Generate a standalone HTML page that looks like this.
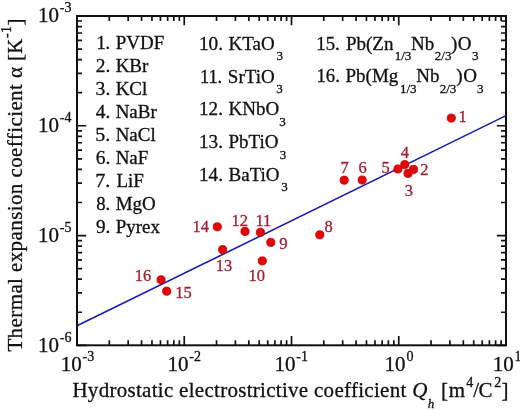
<!DOCTYPE html>
<html><head><meta charset="utf-8"><style>
html,body{margin:0;padding:0;background:#fff;width:520px;height:410px;overflow:hidden}
svg{display:block}
text{font-family:"Liberation Serif","Times New Roman",serif}
.k text,text.k{stroke:#111;stroke-width:0.3px}
</style></head><body>
<svg width="520" height="410" viewBox="0 0 520 410">
<rect width="520" height="410" fill="#fff"/>
<g class="k" font-size="21" fill="#111"><text x="38" y="22.2">10<tspan dx="0.8" dy="-10" font-size="14">-3</tspan></text><text x="38" y="132.2">10<tspan dx="0.8" dy="-10" font-size="14">-4</tspan></text><text x="38" y="242.2">10<tspan dx="0.8" dy="-10" font-size="14">-5</tspan></text><text x="38" y="352">10<tspan dx="0.8" dy="-10" font-size="14">-6</tspan></text><text x="60.8" y="371">10<tspan dx="0.8" dy="-10" font-size="14">-3</tspan></text><text x="167.5" y="371">10<tspan dx="0.8" dy="-10" font-size="14">-2</tspan></text><text x="274.5" y="371">10<tspan dx="0.8" dy="-10" font-size="14">-1</tspan></text><text x="384.6" y="371">10<tspan dx="0.8" dy="-10" font-size="14">0</tspan></text><text x="492.8" y="371">10<tspan dx="0.8" dy="-10" font-size="14">1</tspan></text></g>
<text class="k" transform="translate(22.3,351.6) rotate(-90)" font-size="21" fill="#111" textLength="333" lengthAdjust="spacing">Thermal expansion coefficient α [K<tspan dy="-11" font-size="14">-1</tspan><tspan dy="11">]</tspan></text>
<g class="k" fill="#111"><text x="72.40" y="397" font-size="21" textLength="333.9" lengthAdjust="spacing">Hydrostatic electrostrictive coefficient</text><text x="412.14" y="397.00" font-size="21" font-style="italic">Q</text><text x="427.63" y="408.20" font-size="13" font-style="italic">h</text><text x="441.04" y="397.30" font-size="21">[</text><text x="448.66" y="397.00" font-size="21">m</text><text x="466.23" y="386.80" font-size="14">4</text><text x="473.30" y="397.00" font-size="21">/</text><text x="478.44" y="397.00" font-size="21">C</text><text x="494.18" y="386.80" font-size="14">2</text><text x="501.44" y="397.30" font-size="21">]</text></g>
<g class="k" fill="#111"><text transform="translate(96.38,49.10) scale(0.971,1)" font-size="19">1.</text><text x="115.65" y="49.10" font-size="19">PVDF</text><text transform="translate(95.64,72.03) scale(1.028,1)" font-size="19">2.</text><text x="115.65" y="72.03" font-size="19">KBr</text><text transform="translate(95.56,94.96) scale(1.034,1)" font-size="19">3.</text><text x="115.65" y="94.96" font-size="19">KCl</text><text transform="translate(95.72,117.89) scale(1.022,1)" font-size="19">4.</text><text x="115.65" y="117.89" font-size="19">NaBr</text><text transform="translate(95.34,140.82) scale(1.051,1)" font-size="19">5.</text><text x="115.65" y="140.82" font-size="19">NaCl</text><text transform="translate(95.66,163.75) scale(1.026,1)" font-size="19">6.</text><text x="115.65" y="163.75" font-size="19">NaF</text><text transform="translate(95.17,186.68) scale(1.064,1)" font-size="19">7.</text><text x="116.45" y="186.68" font-size="19">LiF</text><text transform="translate(96.19,209.61) scale(0.986,1)" font-size="19">8.</text><text x="115.65" y="209.61" font-size="19">MgO</text><text transform="translate(95.88,232.54) scale(1.009,1)" font-size="19">9.</text><text x="115.65" y="232.54" font-size="19">Pyrex</text><text transform="translate(198.91,49.70) scale(1.013,1)" font-size="19">10.</text><text x="228.55" y="49.70" font-size="19">KTaO</text><text x="276.48" y="60.00" font-size="13">3</text><text transform="translate(199.88,82.55) scale(0.970,1)" font-size="19">11.</text><text x="227.83" y="82.55" font-size="19">SrTiO</text><text x="276.18" y="92.85" font-size="13">3</text><text transform="translate(199.02,115.40) scale(1.008,1)" font-size="19">12.</text><text x="228.55" y="115.40" font-size="19">KNbO</text><text x="279.28" y="125.70" font-size="13">3</text><text transform="translate(199.02,148.25) scale(1.008,1)" font-size="19">13.</text><text x="228.55" y="148.25" font-size="19">PbTiO</text><text x="279.68" y="158.55" font-size="13">3</text><text transform="translate(199.02,181.10) scale(1.008,1)" font-size="19">14.</text><text x="228.55" y="181.10" font-size="19">BaTiO</text><text x="281.18" y="191.40" font-size="13">3</text><text transform="translate(316.35,49.60) scale(0.989,1)" font-size="19">15.</text><text x="345.95" y="49.60" font-size="19">Pb(Zn</text><text x="394.76" y="59.90" font-size="13">1/3</text><text x="410.95" y="49.60" font-size="19">Nb</text><text x="434.83" y="59.90" font-size="13">2/3</text><text x="451.09" y="49.60" font-size="19">)</text><text x="457.72" y="49.60" font-size="19">O</text><text x="471.88" y="59.90" font-size="13">3</text><text transform="translate(316.46,82.00) scale(0.984,1)" font-size="19">16.</text><text x="345.55" y="82.00" font-size="19">Pb(Mg</text><text x="399.96" y="92.50" font-size="13">1/3</text><text x="416.25" y="82.00" font-size="19">Nb</text><text x="439.73" y="92.50" font-size="13">2/3</text><text x="456.19" y="82.00" font-size="19">)</text><text x="463.32" y="82.00" font-size="19">O</text><text x="476.98" y="92.50" font-size="13">3</text></g>
<line x1="77" y1="325.8" x2="506" y2="115.6" stroke="#1c1cac" stroke-width="1.6"/>
<g fill="#e40404" stroke="#c40000" stroke-width="0.8"><circle cx="451.3" cy="118.1" r="4.1"/><circle cx="413.5" cy="169.4" r="4.1"/><circle cx="408.0" cy="173.4" r="4.1"/><circle cx="404.8" cy="164.6" r="4.1"/><circle cx="397.9" cy="169.0" r="4.1"/><circle cx="362.2" cy="180.0" r="4.1"/><circle cx="344.2" cy="180.2" r="4.1"/><circle cx="319.8" cy="234.8" r="4.1"/><circle cx="270.8" cy="242.4" r="4.1"/><circle cx="262.3" cy="260.9" r="4.1"/><circle cx="260.4" cy="232.3" r="4.1"/><circle cx="245.0" cy="231.4" r="4.1"/><circle cx="222.6" cy="249.7" r="4.1"/><circle cx="217.3" cy="226.8" r="4.1"/><circle cx="166.7" cy="291.2" r="4.1"/><circle cx="161.1" cy="279.8" r="4.1"/></g>
<g fill="#a41e30" stroke="#a41e30" stroke-width="0.3"><text x="458.45" y="121.60" font-size="16.5">1</text><text x="420.17" y="174.60" font-size="16.5">2</text><text x="404.85" y="196.30" font-size="16.5">3</text><text x="400.79" y="157.60" font-size="16.5">4</text><text x="381.52" y="173.10" font-size="16.5">5</text><text x="358.42" y="172.80" font-size="16.5">6</text><text x="340.59" y="172.80" font-size="16.5">7</text><text x="324.52" y="232.30" font-size="16.5">8</text><text x="279.35" y="249.30" font-size="16.5">9</text><text x="248.44" y="281.10" font-size="16.5">10</text><text x="255.47" y="225.80" font-size="16.5">11</text><text x="231.38" y="225.50" font-size="16.5">12</text><text x="215.75" y="270.60" font-size="16.5">13</text><text x="192.40" y="231.80" font-size="16.5">14</text><text x="175.25" y="298.00" font-size="16.5">15</text><text x="134.77" y="281.20" font-size="16.5">16</text></g>
<path d="M77.00 345.30v-9.2M77.00 16.00v9.2M109.29 345.30v-5.0M109.29 16.00v5.0M128.17 345.30v-5.0M128.17 16.00v5.0M141.57 345.30v-5.0M141.57 16.00v5.0M151.96 345.30v-5.0M151.96 16.00v5.0M160.46 345.30v-5.0M160.46 16.00v5.0M167.64 345.30v-5.0M167.64 16.00v5.0M173.86 345.30v-5.0M173.86 16.00v5.0M179.34 345.30v-5.0M179.34 16.00v5.0M184.25 345.30v-9.2M184.25 16.00v9.2M216.54 345.30v-5.0M216.54 16.00v5.0M235.42 345.30v-5.0M235.42 16.00v5.0M248.82 345.30v-5.0M248.82 16.00v5.0M259.21 345.30v-5.0M259.21 16.00v5.0M267.71 345.30v-5.0M267.71 16.00v5.0M274.89 345.30v-5.0M274.89 16.00v5.0M281.11 345.30v-5.0M281.11 16.00v5.0M286.59 345.30v-5.0M286.59 16.00v5.0M291.50 345.30v-9.2M291.50 16.00v9.2M323.79 345.30v-5.0M323.79 16.00v5.0M342.67 345.30v-5.0M342.67 16.00v5.0M356.07 345.30v-5.0M356.07 16.00v5.0M366.46 345.30v-5.0M366.46 16.00v5.0M374.96 345.30v-5.0M374.96 16.00v5.0M382.14 345.30v-5.0M382.14 16.00v5.0M388.36 345.30v-5.0M388.36 16.00v5.0M393.84 345.30v-5.0M393.84 16.00v5.0M398.75 345.30v-9.2M398.75 16.00v9.2M431.04 345.30v-5.0M431.04 16.00v5.0M449.92 345.30v-5.0M449.92 16.00v5.0M463.32 345.30v-5.0M463.32 16.00v5.0M473.71 345.30v-5.0M473.71 16.00v5.0M482.21 345.30v-5.0M482.21 16.00v5.0M489.39 345.30v-5.0M489.39 16.00v5.0M495.61 345.30v-5.0M495.61 16.00v5.0M501.09 345.30v-5.0M501.09 16.00v5.0M77.00 345.30h9.2M506.00 345.30h-9.2M77.00 312.26h5.0M506.00 312.26h-5.0M77.00 292.93h5.0M506.00 292.93h-5.0M77.00 279.21h5.0M506.00 279.21h-5.0M77.00 268.58h5.0M506.00 268.58h-5.0M77.00 259.88h5.0M506.00 259.88h-5.0M77.00 252.54h5.0M506.00 252.54h-5.0M77.00 246.17h5.0M506.00 246.17h-5.0M77.00 240.56h5.0M506.00 240.56h-5.0M77.00 235.53h9.2M506.00 235.53h-9.2M77.00 202.49h5.0M506.00 202.49h-5.0M77.00 183.16h5.0M506.00 183.16h-5.0M77.00 169.45h5.0M506.00 169.45h-5.0M77.00 158.81h5.0M506.00 158.81h-5.0M77.00 150.12h5.0M506.00 150.12h-5.0M77.00 142.77h5.0M506.00 142.77h-5.0M77.00 136.40h5.0M506.00 136.40h-5.0M77.00 130.79h5.0M506.00 130.79h-5.0M77.00 125.77h9.2M506.00 125.77h-9.2M77.00 92.72h5.0M506.00 92.72h-5.0M77.00 73.39h5.0M506.00 73.39h-5.0M77.00 59.68h5.0M506.00 59.68h-5.0M77.00 49.04h5.0M506.00 49.04h-5.0M77.00 40.35h5.0M506.00 40.35h-5.0M77.00 33.00h5.0M506.00 33.00h-5.0M77.00 26.64h5.0M506.00 26.64h-5.0M77.00 21.02h5.0M506.00 21.02h-5.0" stroke="#111" stroke-width="1.7" fill="none"/>
<rect x="77.0" y="16.0" width="429.0" height="329.3" fill="none" stroke="#111" stroke-width="2"/>
</svg>
</body></html>
